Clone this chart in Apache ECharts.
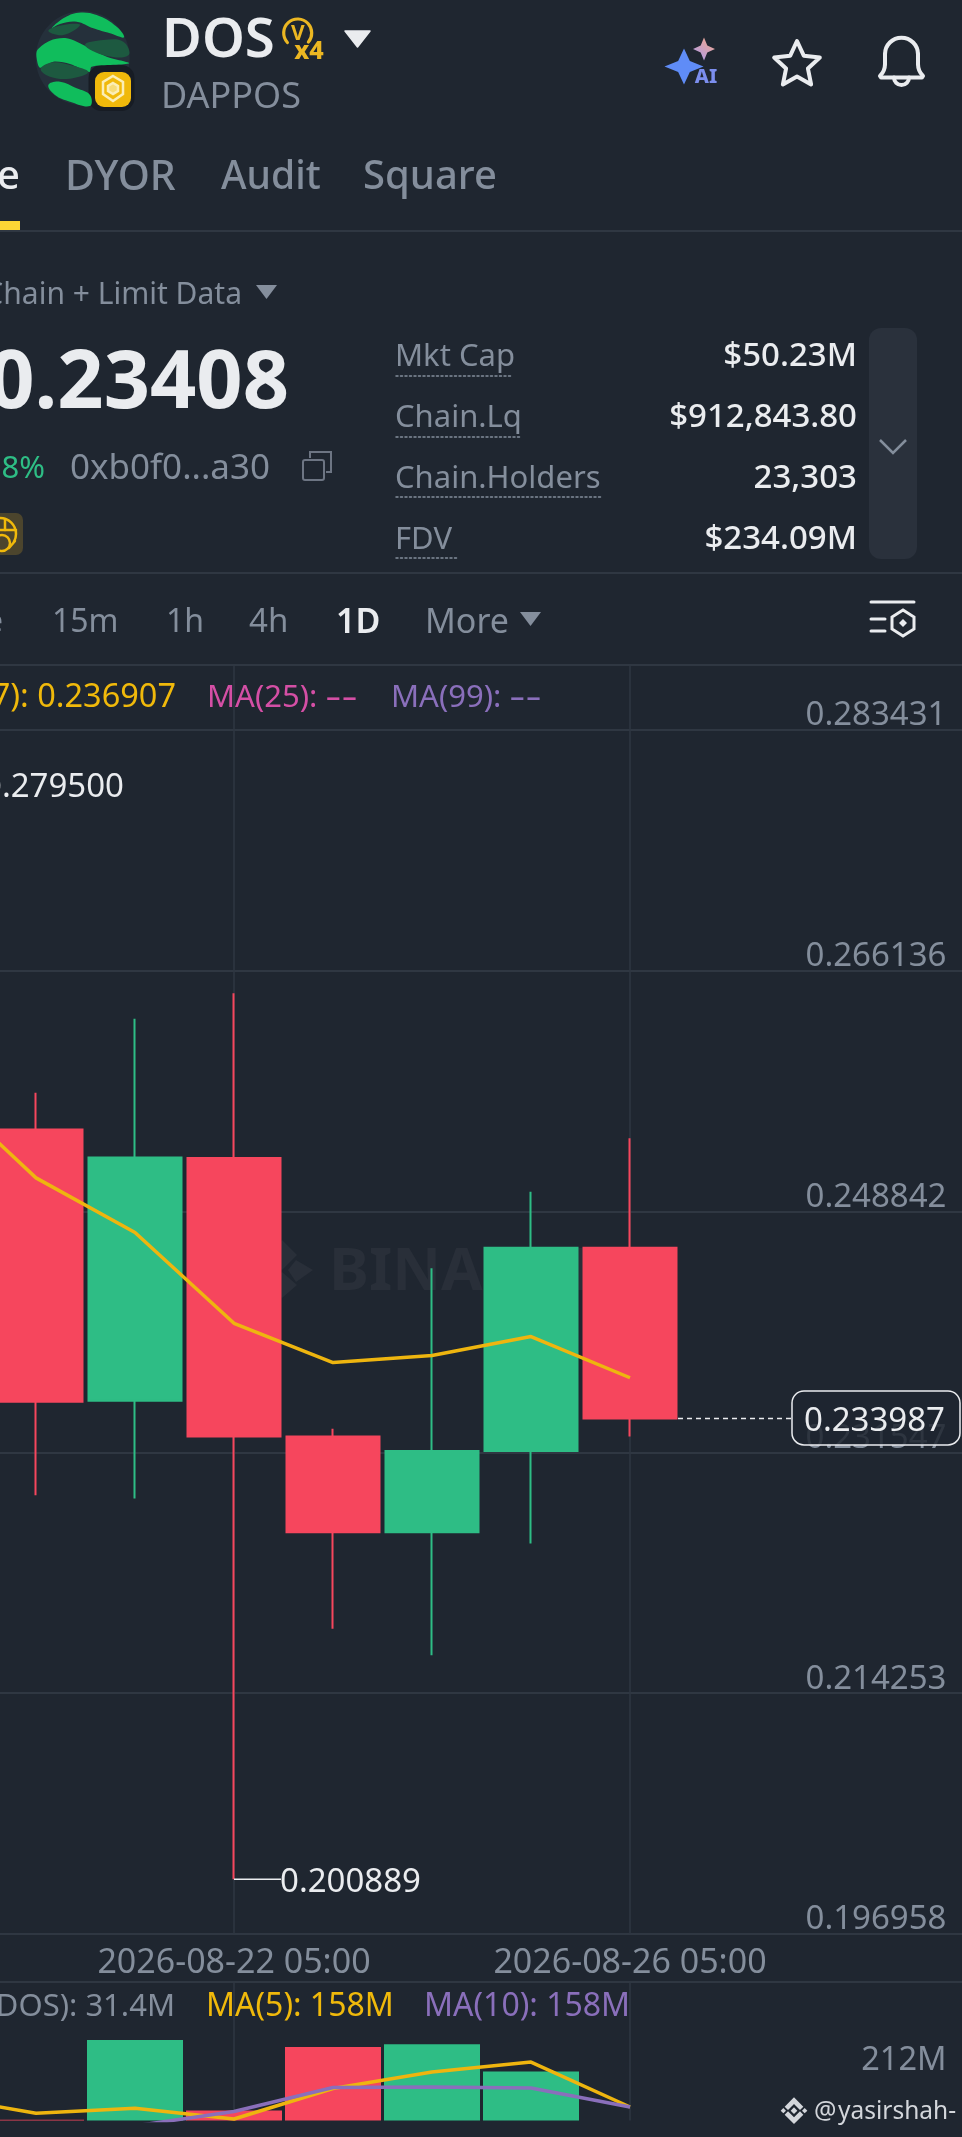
<!DOCTYPE html>
<html><head><meta charset="utf-8">
<style>html,body{margin:0;padding:0;background:#1f2630}#c{width:962px;height:2137px}</style>
<script src="https://cdn.jsdelivr.net/npm/echarts@6/dist/echarts.min.js"></script>
</head><body><div id="c"></div>
<script>
// ---- data ----
const categories = ['2026-08-19 05:00','2026-08-20 05:00','2026-08-21 05:00','2026-08-22 05:00','2026-08-23 05:00','2026-08-24 05:00','2026-08-25 05:00','2026-08-26 05:00','2026-08-27 05:00','2026-08-28 05:00','2026-08-29 05:00'];
const opens  = [0.2640,0.254739,0.235251,0.252685,0.232688,0.225809,0.231646,0.246237];
const closes = [0.2560,0.235179,0.252721,0.232688,0.225809,0.231646,0.246237,0.233987];
const lows   = [0.2520,0.228473,0.228236,0.200889,0.218888,0.216970,0.224998,0.232688];
const highs  = [0.279500,0.257374,0.262687,0.264518,0.233241,0.244772,0.250272,0.254114];
const ma7    = [0.257941,0.251263,0.247343,0.240816,0.237994,0.238511,0.239868,0.236907];
const volumes= [120,33,276,61.5,254.5,262.6,180,31.4];
const volMa5 = [170.9,150.6,156.6,143.9,179.8,199.1,210.8,158];
const volMa10= [null,null,135.9,152.7,180.9,181.5,180.3,158];
const priceMin = 0.196958, priceStep = 0.0172945, priceMax = 0.288096;
const lastPrice = 0.233987, lastHigh = 0.2795, lastLow = 0.200889;
const volTick = 212, volMin = 31.4, volMax = 452;
const stats = [['Mkt Cap','$50.23M'],['Chain.Lq','$912,843.80'],['Chain.Holders','23,303'],['FDV','$234.09M']];

// ---- style ----
const BG='#1f2630', GRID='#2f3742', GREY='#848e9c', WHITE='#eaecef', YEL='#f0b90b', PUR='#8a6fbb', PINK='#d44fa5', RED='#f6465d', GRN='#2ebd85';
const FONT='"Noto Sans", sans-serif';
const el=[];
function T(text,x,y,o={}){el.push({type:'text',x,y:y+(o.dy===undefined?3:o.dy),z:o.z||10,style:{text,fill:o.c||GREY,font:(o.w||400)+' '+(o.s||30)+'px '+FONT,textAlign:o.a||'left',textVerticalAlign:'middle',textBaseline:'middle'}});}
function L(x1,y1,x2,y2,c,w,dash,z){el.push({type:'line',z:z||10,shape:{x1,y1,x2,y2},style:{stroke:c,lineWidth:w||2,lineDash:dash,lineCap:'round'}});}
function R(x,y,w,h,c,r,z,extra){el.push({type:'rect',z:z||10,shape:{x,y,width:w,height:h,r:r||0},style:Object.assign({fill:c},extra||{})});}
function Poly(points,style,smooth,z){el.push({type:'polygon',z:z||11,shape:{points,smooth:smooth||0},style});}
function Arc(cx,cy,r,a,b,c,w){el.push({type:'arc',z:11,shape:{cx,cy,r,startAngle:a,endAngle:b,clockwise:true},style:{fill:'none',stroke:c,lineWidth:w,lineCap:'round'}});}
function Curve(x1,y1,cx,cy,x2,y2,c,w){el.push({type:'bezierCurve',z:11,shape:{x1,y1,x2,y2,cpx1:cx,cpy1:cy},style:{fill:'none',stroke:c,lineWidth:w,lineCap:'round'}});}
function Star4(cx,cy,rx,ry,fill){const k=0.3;Poly([[cx,cy-ry],[cx+rx*k,cy-ry*k],[cx+rx,cy],[cx+rx*k,cy+ry*k],[cx,cy+ry],[cx-rx*k,cy+ry*k],[cx-rx,cy],[cx-rx*k,cy-ry*k]],{fill});}
function Dashed(label,x,y,c){el.push({type:'text',x,y:y+3,z:10,style:{text:'{a|'+label+' }{b|--}',fill:c,textAlign:'left',textVerticalAlign:'middle',textBaseline:'middle',
  rich:{a:{fill:c,font:'400 31px '+FONT},b:{fill:c,font:'300 50px '+FONT}}}});}
const Z=(pts)=>pts.map(p=>[20+p[0]/3,p[1]/3]);

// separators
[231,573,665,1982].forEach(y=>L(0,y,962,y,GRID,2,null,1));

// logo
const LG='#10bd5c', LD='#1d5940';
el.push({type:'circle',z:10,shape:{cx:82.7,cy:58,r:47},style:{fill:'#25303b'}});
Poly(Z([[95,85],[130,55],[175,38],[230,45],[290,80],[312,112],[270,100],[220,85],[170,65],[120,72]]),{fill:LG},0.4);
Poly(Z([[85,92],[130,75],[180,75],[130,105]]),{fill:LD},0.4);
Poly(Z([[52,150],[90,122],[140,115],[200,140],[260,170],[328,190],[215,200],[208,216],[150,192],[100,185],[60,203],[50,175]]),{fill:LG},0.3);
Poly(Z([[195,135],[250,120],[310,125],[326,165],[260,168]]),{fill:LD},0.4);
Poly(Z([[62,206],[100,187],[150,195],[205,216],[150,236],[90,230]]),{fill:LD},0.4);
Poly(Z([[85,255],[120,245],[170,265],[210,285],[210,318],[150,305],[105,285]]),{fill:LG},0.4);
R(88.5,65,46,46,'#171c24',13);
R(95,72,36,35,'#f0b90b',9);
Poly([[113,76],[123,82],[123,94],[113,101],[103,94],[103,82]],{stroke:'#fbeeb6',lineWidth:2.5,fill:'transparent'});
Poly([[113,83],[118,86],[118,91],[113,94],[108,91],[108,86]],{stroke:'#fbeeb6',lineWidth:2.5,fill:'#f7dc78'});

T('DOS',162,38,{c:WHITE,s:54.5,w:600});
Arc(297.7,33,14,2.4,0.7+Math.PI*2,'#ecb722',3.2);
T('V',297.7,31,{c:'#ecb722',s:21,w:700,a:'center'});
T('x4',309,49,{c:'#ecb722',s:25,w:800,a:'center',z:12});
Poly([[345,31],[370,31],[357.5,47]],{fill:WHITE,stroke:WHITE,lineWidth:1.5,lineJoin:'round'});
T('DAPPOS',161,95,{s:36});

// AI icon
Star4(684,66.5,19.5,18,'#5f8cf7');
Star4(704,49,11,11.5,{type:'linear',x:0,y:1,x2:0.8,y2:0,colorStops:[{offset:0,color:'#a99cf5'},{offset:1,color:'#f0a68c'}]});
T('AI',706,74,{c:'#7c8eee',s:20,w:800,a:'center'});
// star
(function(){const pts=[],cx=797,cy=65,Ro=24,Ri=11.5;for(let i=0;i<10;i++){const r=i%2?Ri:Ro,a=-Math.PI/2+i*Math.PI/5;pts.push([cx+r*Math.cos(a),cy+r*Math.sin(a)]);}Poly(pts,{fill:'transparent',stroke:WHITE,lineWidth:4,lineJoin:'round'});})();
// bell
Arc(901.5,54.2,16.5,Math.PI,Math.PI*2,WHITE,4);
L(885,54,885,64,WHITE,4);L(918,54,918,64,WHITE,4);
Curve(885,64,885,71,880,76,WHITE,4);Curve(918,64,918,71,923,76,WHITE,4);
L(881,77.5,922,77.5,WHITE,4);
Arc(901.5,77.5,7.5,0,Math.PI,WHITE,4);

// tabs
T('e',20,175,{c:WHITE,s:40,w:500,a:'right'});
T('DYOR',65,175,{s:41,w:500});T('Audit',221,175,{s:39,w:500});T('Square',363,175,{s:40,w:500});
R(0,221,20,9,'#fcd535');

// data-source row
T('Chain + Limit Data',242,292,{s:30,a:'right'});
Poly([[256,285],[277,285],[266.5,299]],{fill:GREY});
T('0.23408',289,382,{c:WHITE,s:81,w:700,a:'right'});
T('8%',45,466,{c:GRN,s:31,a:'right'});
T('0xb0f0...a30',70,466,{s:35});
R(303,460,21,20,'transparent',2,11,{stroke:'#6d7583',lineWidth:2});
el.push({type:'polyline',z:11,shape:{points:[[310,458],[310,452],[331,452],[331,472],[326,472]]},style:{stroke:'#6d7583',lineWidth:2,fill:'none'}});
R(-10,513,33,42,'#4c452d',7);
Arc(0,534,16,-Math.PI/2,0.5,YEL,2.5);
L(0,530,16,530,YEL,2.5);L(5,519,5,530,YEL,2.5);L(15,541,9,548,YEL,2.5);
el.push({type:'circle',z:11,shape:{cx:2,cy:543,r:8},style:{fill:'transparent',stroke:YEL,lineWidth:2.5}});

// stats
const statY=[354,415,476,537], ulY=[376,437,497,558], ulX=[512,522,601,458];
stats.forEach((s,i)=>{T(s[0],395,statY[i],{s:31});L(396,ulY[i],ulX[i],ulY[i],GREY,1.5,[2,2.5]);T(s[1],857,statY[i],{c:WHITE,s:33,w:500,a:'right'});});
R(869,328,48,231,'#2a313c',12);
el.push({type:'polyline',z:11,shape:{points:[[880,440],[893,453],[906,440]]},style:{stroke:GREY,lineWidth:2.5,fill:'none'}});

// intervals
T('e',3,620,{s:33,a:'right'});T('15m',52,620,{s:32});T('1h',166,620,{s:32});T('4h',249,620,{s:33});
T('1D',336,620,{c:WHITE,s:34,w:600});T('More',425,620,{s:34});
Poly([[520,612],[541,612],[530.5,626]],{fill:GREY});
L(871,602,914,602,WHITE,3);L(871,619,885,619,WHITE,3);L(871,631,885,631,WHITE,3);
Poly([[903,610],[914,617],[914,629],[903,636],[892,629],[892,617]],{fill:'transparent',stroke:WHITE,lineWidth:3});
Poly([[903,619],[907,623],[903,627],[899,623]],{fill:WHITE});

// legends
T('7): 0.236907',176,695,{c:YEL,s:32.5,a:'right'});
Dashed('MA(25):',207,695,PINK);
Dashed('MA(99):',391,695,PUR);
T('DOS): 31.4M',175,2005,{s:31,a:'right',dy:2});
T('MA(5): 158M',206,2005,{c:YEL,s:32,dy:2});
T('MA(10): 158M',424,2005,{c:PUR,s:32,dy:2});

// watermark (under candles)
el.push({type:'text',x:329,y:1273,z:1,style:{text:'BINANCE',fill:'#292f39',font:'700 60px '+FONT,textAlign:'left',textBaseline:'middle',textVerticalAlign:'middle'}});
Poly([[282,1240],[297,1255],[282,1270],[270,1258]],{fill:'#292f39'},0,1);
Poly([[296,1260],[313,1270],[296,1282],[288,1270]],{fill:'#292f39'},0,1);
Poly([[282,1272],[297,1285],[282,1298],[270,1285]],{fill:'#292f39'},0,1);

// bottom-right credit
const CW='#d3d6db', cz=(pts)=>pts.map(p=>[760+p[0]/3,2080+p[1]/3]);
Poly(cz([[102,52],[130,80],[120,90],[102,72],[84,90],[74,80]]),{fill:CW});
Poly(cz([[102,132],[130,104],[120,94],[102,112],[84,94],[74,104]]),{fill:CW});
Poly(cz([[102,82],[112,92],[102,102],[92,92]]),{fill:CW});
Poly(cz([[70,84],[78,92],[70,100],[62,92]]),{fill:CW});
Poly(cz([[134,84],[142,92],[134,100],[126,92]]),{fill:CW});
T('@',814,2112,{c:CW,s:25,dy:0});T('yasirshah-',838,2112,{c:CW,s:24.5,dy:0});

// ---- chart ----
const chart=echarts.init(document.getElementById('c'),null,{renderer:'canvas',width:962,height:2137});
const showX=(i)=>i===3||i===7;
const candle=opens.map((o,i)=>[o,closes[i],lows[i],highs[i]]);
const isUp=(i)=>closes[i]>=opens[i];
const leader=(idx,val)=>({coord:[categories[idx],val],value:val.toFixed(6),symbol:'rect',symbolSize:[47,1.6],symbolOffset:[23.5,0],itemStyle:{color:'#eaecef'},
  label:{show:true,position:'right',distance:0,offset:[-1,3],color:'#eaecef',fontSize:33,fontFamily:FONT,formatter:val.toFixed(6)}});
const option={
  backgroundColor:BG,animation:false,
  textStyle:{fontFamily:FONT},
  grid:[{outerBoundsMode:'none',left:-112.5,width:1089,top:665,height:1269},{outerBoundsMode:'none',left:-112.5,width:1089,top:1982,height:138.4}],
  xAxis:[
   {type:'category',gridIndex:0,data:categories,axisLine:{show:false},axisTick:{show:false},
    axisLabel:{interval:(i)=>showX(i),color:GREY,fontSize:34,fontFamily:FONT,margin:29,lineHeight:30,verticalAlign:'middle',formatter:v=>v},
    splitLine:{show:true,interval:(i)=>showX(i),alignWithLabel:true,lineStyle:{color:GRID,width:1.5}}},
   {type:'category',gridIndex:1,data:categories,axisLine:{show:false},axisTick:{show:false},axisLabel:{show:false},
    splitLine:{show:true,interval:(i)=>showX(i),alignWithLabel:true,lineStyle:{color:GRID,width:1.5}}}
  ],
  yAxis:[
   {type:'value',gridIndex:0,position:'right',min:priceMin,max:priceMax,interval:priceStep,
    axisLine:{show:false},axisTick:{show:false},splitLine:{show:true,lineStyle:{color:GRID,width:2}},
    axisLabel:{inside:true,margin:30,color:GREY,fontSize:33,fontFamily:FONT,verticalAlign:'bottom',lineHeight:28,showMinLabel:true,showMaxLabel:false,
      formatter:v=>v>0.285?'':(v+1e-9).toFixed(6)}},
   {type:'value',gridIndex:1,position:'right',min:volMin,max:volMax,interval:volTick-volMin,
    axisLine:{show:false},axisTick:{show:false},splitLine:{show:false},
    axisLabel:{inside:true,margin:30,color:GREY,fontSize:32.5,fontFamily:FONT,showMinLabel:false,showMaxLabel:false,formatter:v=>Math.abs(v-volTick)<1?volTick+'M':''}},
   {type:'value',gridIndex:1,min:142.3,max:304.8,show:false}
  ],
  series:[
   {type:'candlestick',xAxisIndex:0,yAxisIndex:0,data:candle,barWidth:94,z:3,
    itemStyle:{color:GRN,color0:RED,borderColor:GRN,borderColor0:RED,borderWidth:2},
    markPoint:{silent:true,z:6,data:[leader(0,lastHigh),leader(3,lastLow)]}},
   {type:'line',name:'MA(7)',xAxisIndex:0,yAxisIndex:0,data:ma7,symbol:'none',z:4,lineStyle:{color:'#eeb50f',width:3.5}},
   {type:'bar',xAxisIndex:1,yAxisIndex:1,barWidth:96,z:3,
    data:volumes.map((v,i)=>({value:v,itemStyle:{color:isUp(i)?GRN:RED}}))},
   {type:'line',name:'MA(5)',xAxisIndex:1,yAxisIndex:2,data:volMa5,symbol:'none',z:4,lineStyle:{color:'#eeb50f',width:3.5}},
   {type:'line',name:'MA(10)',xAxisIndex:1,yAxisIndex:2,data:volMa10,symbol:'none',z:4,lineStyle:{color:PUR,width:3.5}}
  ],
  graphic:{elements:el}
};
chart.setOption(option);
// last-price tag placed through the axis scale
const py=chart.convertToPixel({yAxisIndex:0},lastPrice);
el.push(
  {type:'line',z:9,shape:{x1:678,y1:py,x2:791,y2:py},style:{stroke:'#eaecef',lineWidth:1.5,lineDash:[5,4]}},
  {type:'rect',z:9,shape:{x:792,y:py-27.5,width:168,height:54,r:12},style:{fill:'rgba(31,38,48,0.85)',stroke:'#eaecef',lineWidth:1.5}},
  {type:'text',z:12,x:945,y:py+3,style:{text:lastPrice.toFixed(6),fill:'#eaecef',font:'400 33px '+FONT,textAlign:'right',textBaseline:'middle',textVerticalAlign:'middle'}}
);
chart.setOption({graphic:{elements:el}},{replaceMerge:['graphic']});
</script></body></html>
